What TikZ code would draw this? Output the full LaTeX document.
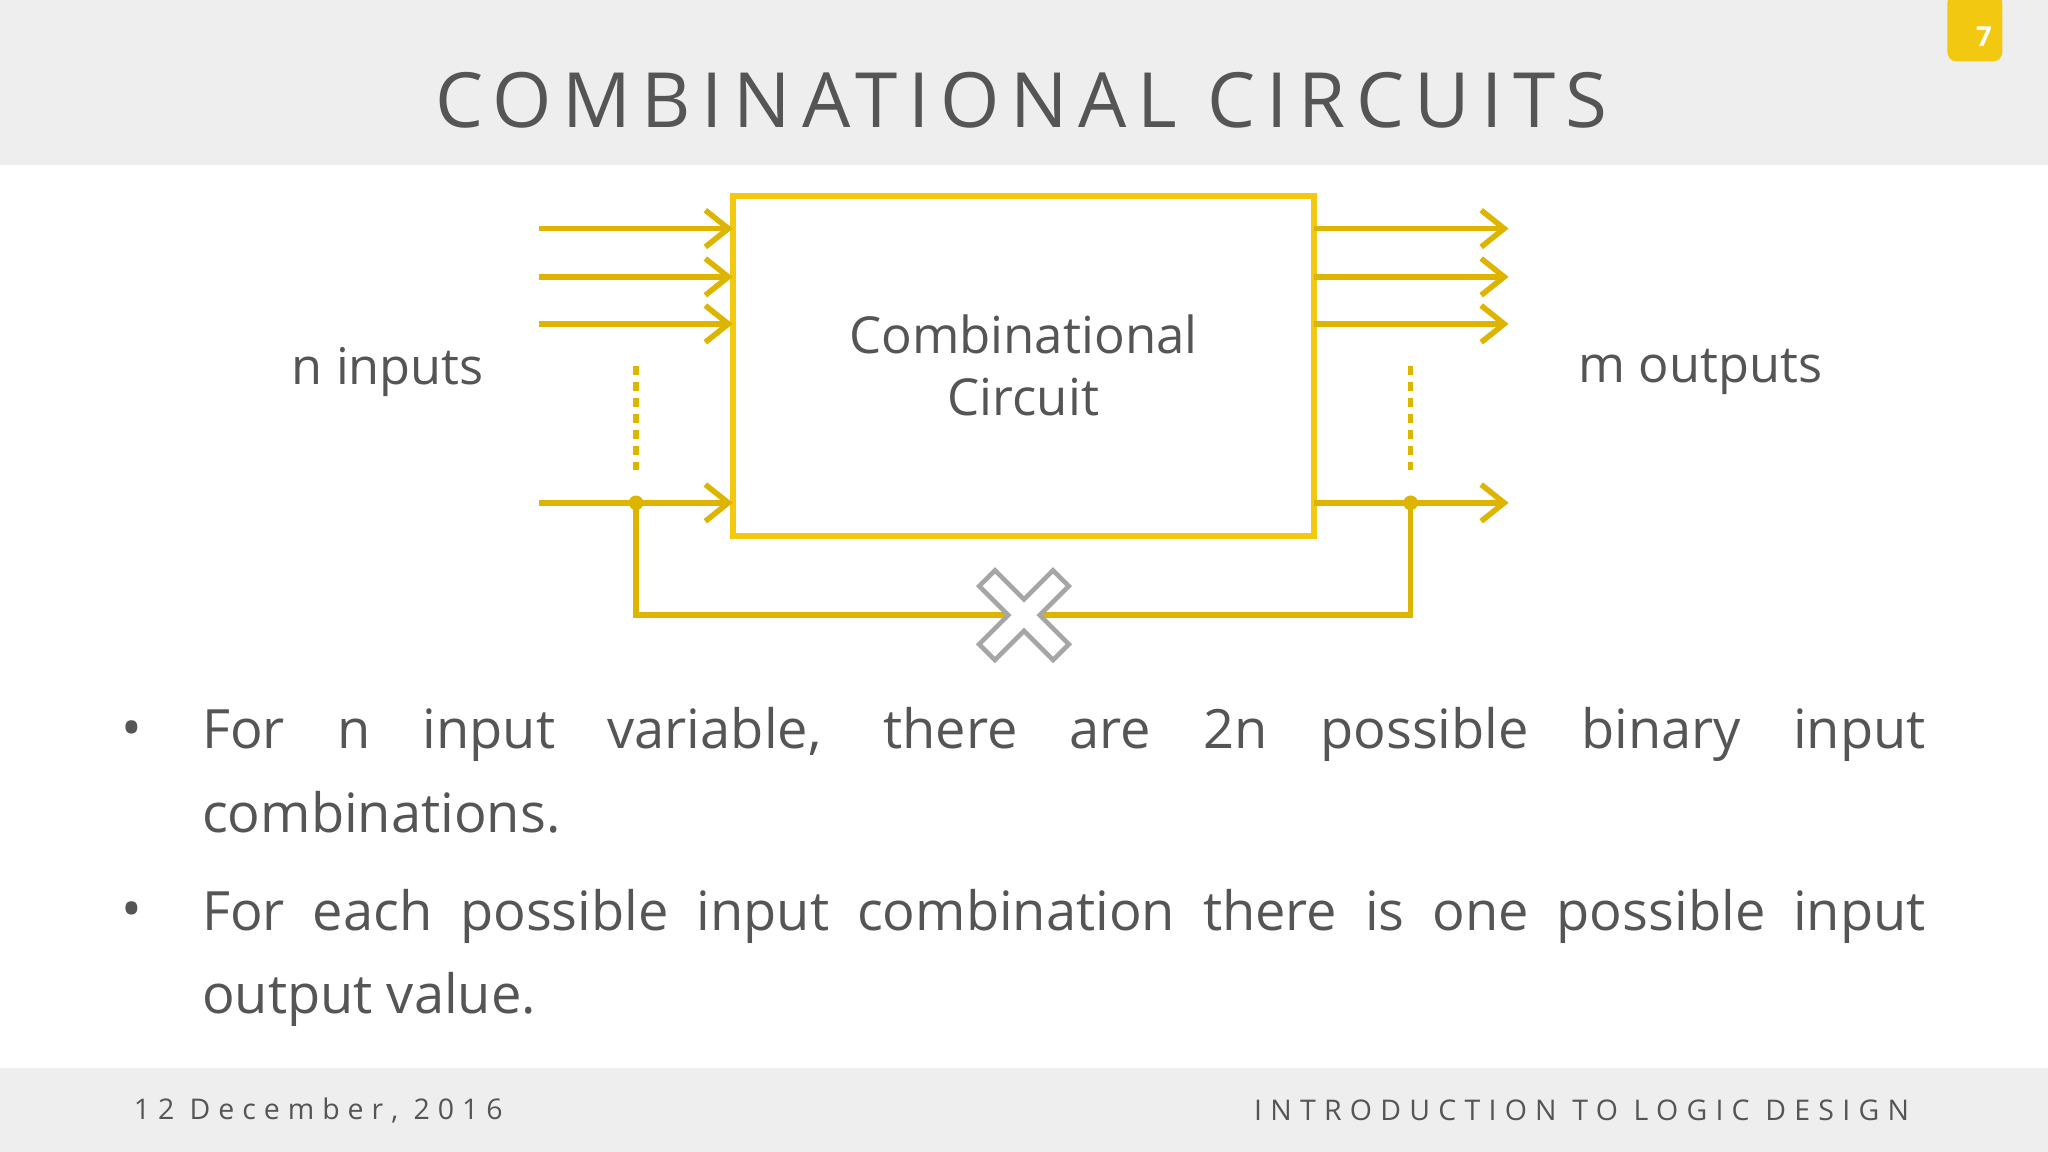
\documentclass[tikz,border=0pt]{standalone}
\usepackage{fontspec}
\setmainfont{Open Sans}
\usepackage{ragged2e}
\usetikzlibrary{arrows.meta}
\definecolor{band}{HTML}{EEEEEE}
\definecolor{txt}{HTML}{555555}
\definecolor{gold}{HTML}{F2C811}
\definecolor{dgold}{HTML}{DDB400}
\tikzset{
  wire/.style={dgold,line width=1.2pt},
  arr/.style={wire,-{Straight Barb[length=5pt,width=8pt,line width=1.2pt]}},
  lbl/.style={text=txt,font=\fontsize{11}{13}\selectfont},
  body/.style={anchor=north west,inner sep=0pt,text=txt,font=\fontsize{11.8}{18.2}\selectfont},
}
\begin{document}
\begin{tikzpicture}[x=0.01cm,y=-0.01cm]
\useasboundingbox (0,0) rectangle (1568,882);
\fill[white] (0,0) rectangle (1568,882);
\fill[band] (0,0) rectangle (1568,126);
\fill[band] (0,818) rectangle (1568,882);
\node[text=txt,font=\fontsize{16.6}{20}\selectfont\addfontfeature{LetterSpace=14}] (title) at (782,77) {COMBINATIONAL CIRCUITS};
\fill[gold,rounded corners=2pt] (1491,-5) rectangle (1533,47);
\node[text=white,font=\bfseries\fontsize{6}{7}\selectfont] (pg) at (1519,28) {7};
% box
\node[draw=gold,line width=1.3pt,minimum width=4.45cm,minimum height=2.6cm,inner sep=0pt,
  align=center,text=txt,font=\fontsize{11.1}{13.5}\selectfont] (cc) at (783.5,280) {Combinational\\Circuit};
\foreach \y/\n in {175/a,212/b,248/c,385/d}{
  \coordinate (i\n) at (413,\y); \coordinate (ie\n) at (561,\y);
  \coordinate (o\n) at (1006,\y); \coordinate (oe\n) at (1155,\y);
  \draw[arr] (i\n) -- (ie\n);
  \draw[arr] (o\n) -- (oe\n);
}
\coordinate (d1a) at (487,280); \coordinate (d1b) at (487,360);
\coordinate (d2a) at (1080,280); \coordinate (d2b) at (1080,360);
\draw[wire,dash pattern=on 2pt off 1.5pt] (d1a) -- (d1b);
\draw[wire,dash pattern=on 2pt off 1.5pt] (d2a) -- (d2b);
\coordinate (j1) at (487,385); \coordinate (j2) at (1080,385);
\fill[dgold] (j1) circle (1.6pt); \fill[dgold] (j2) circle (1.6pt);
\coordinate (b1) at (487,471); \coordinate (b2) at (1080,471);
\draw[wire] (j1) -- (b1) -- (b2) -- (j2);
\begin{scope}[shift={(784,471)},rotate=45]
\draw[gray!70,fill=white,line width=1pt] (-8.5,-40)--(8.5,-40)--(8.5,-8.5)--(40,-8.5)--(40,8.5)--(8.5,8.5)--(8.5,40)--(-8.5,40)--(-8.5,8.5)--(-40,8.5)--(-40,-8.5)--(-8.5,-8.5)--cycle;
\end{scope}
\node[lbl] (nin) at (297,285) {n inputs};
\node[lbl] (mout) at (1302,285) {m outputs};
% bullets
\node[text=txt,font=\fontsize{12}{18.2}\selectfont] (bu1) at (101,562) {•};
\node[text=txt,font=\fontsize{12}{18.2}\selectfont] (bu2) at (101,701) {•};
\node[body] (t1) at (154,541)
 {\parbox{13.19cm}{\hyphenpenalty=10000\noindent\justifying\noindent For n input variable, there are 2n possible binary input\linebreak combinations.}};
\node[body] (t2) at (154,680)
 {\parbox{13.19cm}{\hyphenpenalty=10000\noindent\justifying\noindent For each possible input combination there is one possible input output value.}};
\node[anchor=west,text=txt,font=\fontsize{6.2}{8}\selectfont\addfontfeature{LetterSpace=28}] (date) at (90,850) {12 December, 2016};
\node[anchor=east,text=txt,font=\fontsize{6.2}{8}\selectfont\addfontfeature{LetterSpace=29}] (ft) at (1474,850) {INTRODUCTION TO LOGIC DESIGN};
\end{tikzpicture}
\end{document}
